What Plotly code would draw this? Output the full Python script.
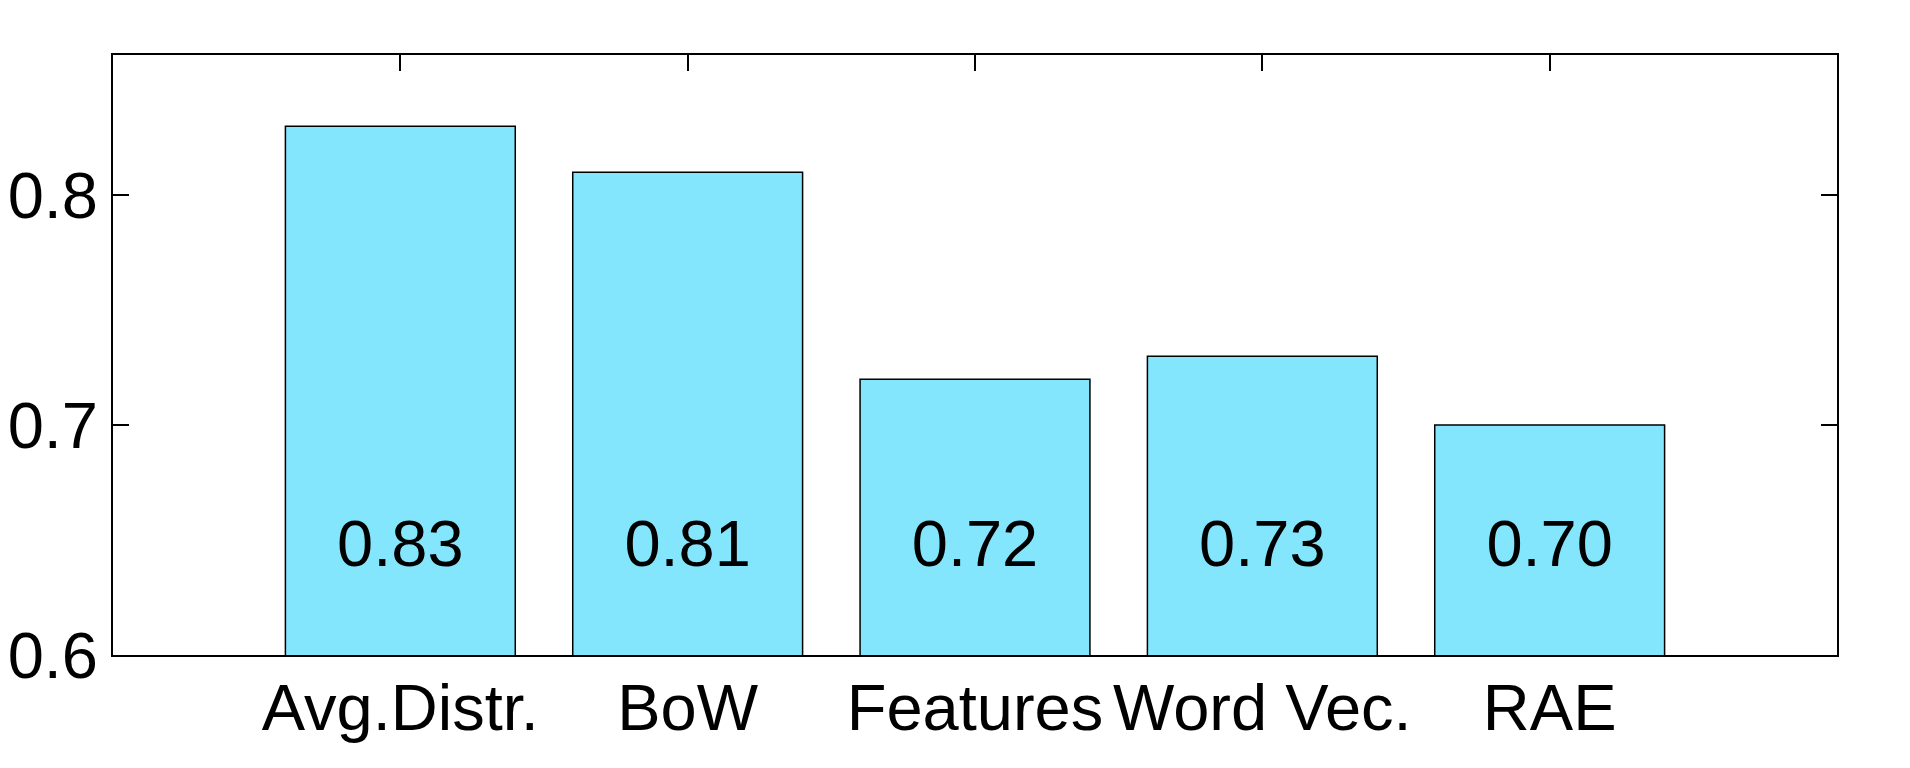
import plotly.graph_objects as go

categories = ["Avg.Distr.", "BoW", "Features", "Word Vec.", "RAE"]
values = [0.83, 0.81, 0.72, 0.73, 0.70]
y_ticks = [0.6, 0.7, 0.8]
y_tick_labels = ["0.6", "0.7", "0.8"]
label_y = 0.646

FONT = "Liberation Sans, Arial, Helvetica, sans-serif"
FSIZE = 65
BAR_COLOR = "#84E6FC"

fig = go.Figure()
fig.add_trace(go.Bar(
    x=categories, y=values, width=0.8,
    marker=dict(color=BAR_COLOR, line=dict(color="black", width=1.5)),
    showlegend=False, hoverinfo="x+y",
))
fig.add_trace(go.Scatter(
    x=categories, y=[label_y] * len(values), mode="text",
    text=[f"{v:.2f}" for v in values],
    textfont=dict(family=FONT, size=FSIZE, color="black"),
    showlegend=False, hoverinfo="skip",
))

fig.update_layout(
    width=1910, height=768,
    margin=dict(l=105, r=81, t=47, b=121, autoexpand=False),
    paper_bgcolor="white", plot_bgcolor="white",
    font=dict(family=FONT, size=FSIZE, color="black"),
    bargap=0.2,
)
fig.update_xaxes(
    type="category", range=[-1, 5], automargin=False,
    showline=True, linecolor="black", linewidth=2, mirror="ticks",
    ticks="inside", ticklen=16, tickwidth=2, tickcolor="black",
    showgrid=False, zeroline=False, layer="below traces",
    tickfont=dict(family=FONT, size=FSIZE, color="black"),
    ticklabelstandoff=-5,
)
fig.update_yaxes(
    range=[0.6, 0.861], automargin=False,
    tickvals=y_ticks, ticktext=y_tick_labels,
    showline=True, linecolor="black", linewidth=2, mirror="ticks",
    ticks="inside", ticklen=16, tickwidth=2, tickcolor="black",
    showgrid=False, zeroline=False,
    tickfont=dict(family=FONT, size=FSIZE, color="black"),
    ticklabelstandoff=0,
)

fig.write_html("out.html")
